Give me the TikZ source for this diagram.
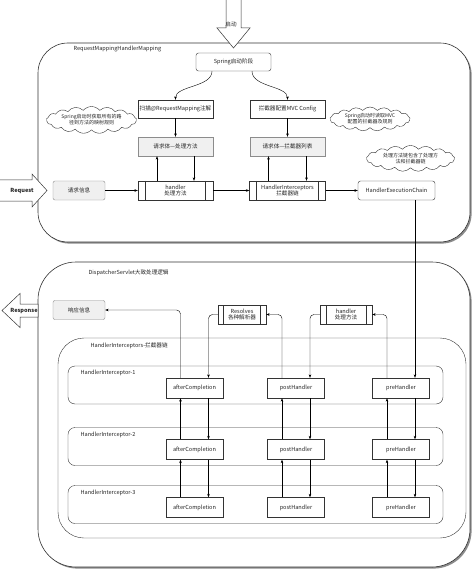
\documentclass[tikz,border=0pt]{standalone}
\usepackage{fontspec}
\newfontfamily\cjk{Noto Sans CJK SC}
\usetikzlibrary{shapes.symbols,shadows,arrows.meta}

\tikzset{
  plainbox/.style={draw=black!80, fill=white, minimum width=75pt, minimum height=18pt, inner sep=1pt},
  roundbox/.style={plainbox, rounded corners=2.5pt},
  graybox/.style={plainbox, fill=black!6, draw=black!45, minimum height=19pt},
  infobox/.style={draw=black!45, fill=black!6, rounded corners=2pt, minimum width=52pt, minimum height=19pt, inner sep=1pt},
  procbox/.style={draw=black!80, fill=white, align=center, minimum width=75pt, minimum height=19pt, inner sep=1pt,
    path picture={\draw ([xshift=#1]path picture bounding box.north west) -- ([xshift=#1]path picture bounding box.south west)
      ([xshift=-#1]path picture bounding box.north east) -- ([xshift=-#1]path picture bounding box.south east);}},
  procbox/.default=7.5pt,
  stepnode/.style={draw=black!80, fill=white, minimum width=57pt, minimum height=20pt, inner sep=1pt},
  rowbox/.style={draw=black!80, rounded corners=7pt, minimum width=375pt, minimum height=38pt},
  cloudnote/.style={cloud, draw=black!80, fill=white, cloud puffs=17, cloud puff arc=100, cloud ignores aspect, inner sep=0pt},
  notetext/.style={align=center, font=\cjk\fontsize{5}{6}\selectfont},
  groupbox/.style={draw=black!80, line width=0.6pt, fill=white,
    drop shadow={shadow xshift=1.6pt, shadow yshift=-1.6pt, fill=black!45, opacity=1}},
  hollowarrow/.style={draw=black!80, fill=white, line width=0.5pt},
}

\begin{document}
\begin{tikzpicture}[x=1pt, y=-1pt, >={Stealth[length=3.5pt,width=2.6pt]},
  every node/.style={font=\cjk\fontsize{5.6}{6.8}\selectfont, text=black!85}]
  \useasboundingbox (0,0) rectangle (474,569);

  % group frames
  \draw[groupbox, rounded corners=30pt] (38,43) rectangle (470,242);
  \draw[groupbox, rounded corners=38pt] (38,262) rectangle (470,567);
  \draw[draw=black!80, rounded corners=26pt] (58,338) rectangle (466,538);
  \node[anchor=west] at (70,49) {RequestMappingHandlerMapping};
  \node[anchor=west] at (85,273) {DispatcherServlet大致处理逻辑};
  \node[anchor=west] at (87,346) {HandlerInterceptors-拦截器链};

  % big hollow arrows
  \draw[hollowarrow] (226,-2) -- (226,28) -- (217,28) -- (233.5,48) -- (250,28) -- (241,28) -- (241,-2) -- cycle;
  \node (start) at (231,24) {启动};
  \draw[hollowarrow] (-2,180) -- (32,180) -- (32,174) -- (47,190.5) -- (32,207) -- (32,201) -- (-2,201) -- cycle;
  \node[font=\cjk\bfseries\fontsize{5.6}{6.8}\selectfont] (request) at (22,190.5) {Request};
  \draw[hollowarrow] (2,310.5) -- (20,293.5) -- (20,304) -- (38,304) -- (38,317) -- (20,317) -- (20,327.5) -- cycle;
  \node[font=\cjk\bfseries\fontsize{5.6}{6.8}\selectfont] (response) at (24,310.5) {Response};

  % startup phase
  \node[roundbox] (spring) at (233.5,62) {Spring启动阶段};
  \node[plainbox] (scan) at (175.5,109) {扫描@RequestMapping注解};
  \node[plainbox] (mvc) at (287.5,109) {拦截器配置MVC Config};
  \node[graybox] (reqh) at (175.5,146.5) {请求体—处理方法};
  \node[graybox] (reqi) at (287.5,146.5) {请求体—拦截器列表};
  \node[procbox] (handler) at (175.5,190.5) {handler\\处理方法};
  \node[procbox=7pt, minimum width=76pt] (interceptors) at (287.5,190.5) {HandlerInterceptors\\拦截器链};
  \node[infobox] (reqinfo) at (79,190.5) {请求信息};
  \node[roundbox, minimum width=77pt, minimum height=19pt] (chain) at (396.5,190.5) {HandlerExecutionChain};

  % notes
  \node[cloudnote, minimum width=90pt, minimum height=27pt,
    label={[notetext]center:{Spring启动时获取所有的路\\径到方法的映射规则}}] (noteA) at (91.5,120) {};
  \node[cloudnote, minimum width=80pt, minimum height=24pt,
    label={[notetext]center:{Spring启动时读取MVC\\配置的拦截器及规则}}] (noteB) at (370,119) {};
  \node[cloudnote, minimum width=88pt, minimum height=26pt,
    label={[notetext]center:{处理方法链包含了处理方\\法和拦截器链}}] (noteC) at (410.5,158.5) {};

  \draw[->] ([xshift=-21.5pt]spring.south) .. controls +(0,16) and +(0,-14) .. (scan.north);
  \draw[->] ([xshift=18.5pt]spring.south) .. controls +(0,16) and +(0,-14) .. (mvc.north);
  \draw[->] (scan) -- (reqh);
  \draw[->] (mvc) -- (reqi);
  \draw[->] ([xshift=-18.5pt]handler.north) -- ([xshift=-18.5pt]reqh.south);
  \draw[->] ([xshift=18.5pt]reqh.south) -- ([xshift=18.5pt]handler.north);
  \draw[->] ([xshift=-19pt]interceptors.north) -- ([xshift=-19pt]reqi.south);
  \draw[->] ([xshift=19pt]reqi.south) -- ([xshift=19pt]interceptors.north);
  \draw[->] (reqinfo) -- (handler);
  \draw[->] (handler) -- (interceptors);
  \draw[->] (interceptors) -- (chain);

  % request handling
  \node[infobox] (respinfo) at (79,310) {响应信息};
  \node[procbox=5.5pt, minimum width=48pt] (resolves) at (242,314.5) {Resolves\\各种解析器};
  \node[procbox=6pt, minimum width=52pt] (handler2) at (346,314.5) {handler\\处理方法};

  \foreach \i/\y in {1/388, 2/449.5, 3/507.5} {
    \node[rowbox] (row\i) at (255.5,{\y-3}) {};
    \node[anchor=west] at (77,{\y-15}) {HandlerInterceptor-\i};
    \node[stepnode] (after\i) at (194.5,\y) {afterCompletion};
    \node[stepnode] (post\i) at (296,\y) {postHandler};
    \node[stepnode] (pre\i) at (401,\y) {preHandler};
  }
  \foreach \i/\j in {1/2, 2/3} {
    \foreach \s in {after, post, pre} {
      \draw[->] ([xshift=14pt]\s\i.south) -- ([xshift=14pt]\s\j.north);
      \draw[->] ([xshift=-14pt]\s\j.north) -- ([xshift=-14pt]\s\i.south);
    }
  }

  \coordinate (prein) at ([xshift=14pt]pre1.north);
  \draw[->] (prein |- chain.south) -- (prein);
  \draw[->, rounded corners=4pt] ([xshift=-14pt]pre1.north) |- (handler2.east);
  \draw[->, rounded corners=4pt] (handler2.west) -| ([xshift=14pt]post1.north);
  \draw[->, rounded corners=4pt] ([xshift=-14pt]post1.north) |- (resolves.east);
  \draw[->, rounded corners=4pt] (resolves.west) -| ([xshift=14pt]after1.north);
  \draw[->, rounded corners=4pt] ([xshift=-14pt]after1.north) |- (respinfo.east);
\end{tikzpicture}
\end{document}
